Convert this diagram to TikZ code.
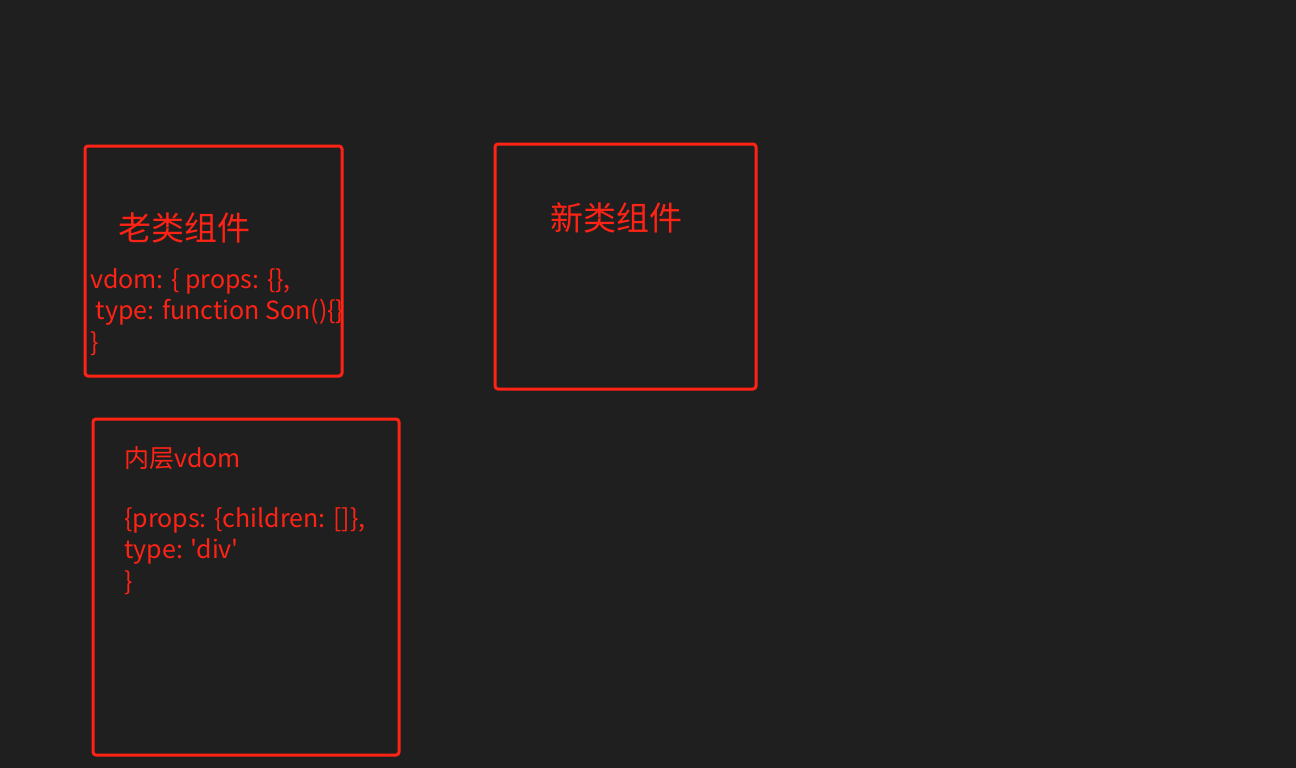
\documentclass[tikz,border=0pt]{standalone}
\usepackage{fontspec}
\newfontfamily\cjk{Noto Sans CJK SC}
\usetikzlibrary{positioning}
\definecolor{bgdark}{HTML}{1F1F1F}
\definecolor{penred}{HTML}{FF2316}

\begin{document}
\begin{tikzpicture}[x=1pt, y=-1pt,
  every node/.style={text=penred, inner sep=0pt, anchor=base west},
  redbox/.style={draw=penred, line width=3pt, rounded corners=3pt},
  title/.style={font=\cjk\fontsize{33}{33}\selectfont},
  code/.style={font=\cjk\fontsize{25}{31.5}\selectfont, align=left}]
  \fill[bgdark] (0,0) rectangle (1296,768);
  \useasboundingbox (0,0) rectangle (1296,768);
  % boxes
  \draw[redbox] (85,146) rectangle (342,376);
  \draw[redbox] (495,144) rectangle (756,389);
  \draw[redbox] (93,419) rectangle (399,755);
  % old class component (base = last line)
  \node[title] (old) at (118,240) {老类组件};
  \node[code] (oldvdom) at (90,351) {vdom: \{ props: \{\},\\
  \ type: function Son()\{\}\\
  \}};
  % new class component
  \node[title] (new) at (550,230) {新类组件};
  % inner vdom
  \node[code] (inner) at (124,467) {内层vdom};
  \node[code] (innervdom) at (124,590) {\{props: \{children: []\},\\
  type: 'div'\\
  \}};
\end{tikzpicture}
\end{document}
